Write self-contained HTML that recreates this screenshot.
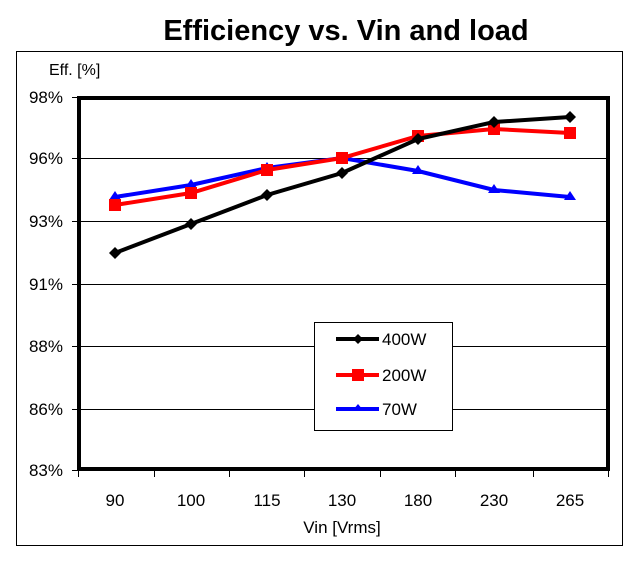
<!DOCTYPE html>
<html><head><style>body{margin:0;background:#fff}</style></head><body>
<svg width="638" height="562" xmlns="http://www.w3.org/2000/svg" font-family="Liberation Sans, sans-serif">
<rect x="16.5" y="51.5" width="606" height="494" fill="none" stroke="#000" stroke-width="1"/>
<text x="346" y="40" font-size="29" font-weight="bold" text-anchor="middle">Efficiency vs. Vin and load</text>
<text x="49" y="75" font-size="16">Eff. [%]</text>
<g stroke="#000" stroke-width="1" shape-rendering="crispEdges">
<line x1="72" y1="158.5" x2="608" y2="158.5"/><line x1="72" y1="221.5" x2="608" y2="221.5"/>
<line x1="72" y1="284.5" x2="608" y2="284.5"/><line x1="72" y1="346.5" x2="608" y2="346.5"/>
<line x1="72" y1="409.5" x2="608" y2="409.5"/><line x1="72" y1="97.5" x2="78" y2="97.5"/>
<line x1="72" y1="470.5" x2="78" y2="470.5"/>
<line x1="154.5" y1="470" x2="154.5" y2="477"/><line x1="229.5" y1="470" x2="229.5" y2="477"/>
<line x1="304.5" y1="470" x2="304.5" y2="477"/><line x1="380.5" y1="470" x2="380.5" y2="477"/>
<line x1="455.5" y1="470" x2="455.5" y2="477"/><line x1="533.5" y1="470" x2="533.5" y2="477"/>
<line x1="608.5" y1="470" x2="608.5" y2="477"/><line x1="78.5" y1="470" x2="78.5" y2="477"/>
</g>
<rect x="79" y="98" width="529" height="371" fill="none" stroke="#000" stroke-width="4"/>
<g font-size="17" text-anchor="end">
<text x="63" y="103">98%</text><text x="63" y="164">96%</text><text x="63" y="227">93%</text>
<text x="63" y="290">91%</text><text x="63" y="352">88%</text><text x="63" y="415">86%</text><text x="63" y="476">83%</text>
</g>
<g font-size="17" text-anchor="middle">
<text x="115" y="506">90</text><text x="191" y="506">100</text><text x="267" y="506">115</text>
<text x="342" y="506">130</text><text x="418" y="506">180</text><text x="494" y="506">230</text><text x="570" y="506">265</text>
<text x="342" y="533">Vin [Vrms]</text>
</g>
<polyline points="115,197 191,185 267,168 342,158 418,171 494,190 570,197" fill="none" stroke="#0000ff" stroke-width="4"/>
<g fill="#0000ff"><path d="M115,191 l6,9 h-12z"/><path d="M191,179 l6,9 h-12z"/><path d="M267,162 l6,9 h-12z"/><path d="M342,152 l6,9 h-12z"/><path d="M418,165 l6,9 h-12z"/><path d="M494,184 l6,9 h-12z"/><path d="M570,191 l6,9 h-12z"/></g>
<polyline points="115,205 191,193 267,170 342,158 418,136 494,129 570,133" fill="none" stroke="#ff0000" stroke-width="4"/>
<g fill="#ff0000"><rect x="109" y="199" width="12" height="12"/><rect x="185" y="187" width="12" height="12"/><rect x="261" y="164" width="12" height="12"/><rect x="336" y="152" width="12" height="12"/><rect x="412" y="130" width="12" height="12"/><rect x="488" y="123" width="12" height="12"/><rect x="564" y="127" width="12" height="12"/></g>
<polyline points="115,253 191,224 267,195 342,173 418,139 494,122 570,117" fill="none" stroke="#000" stroke-width="4"/>
<g fill="#000"><path d="M115,247 l6,6 l-6,6 l-6,-6z"/><path d="M191,218 l6,6 l-6,6 l-6,-6z"/><path d="M267,189 l6,6 l-6,6 l-6,-6z"/><path d="M342,167 l6,6 l-6,6 l-6,-6z"/><path d="M418,133 l6,6 l-6,6 l-6,-6z"/><path d="M494,116 l6,6 l-6,6 l-6,-6z"/><path d="M570,111 l6,6 l-6,6 l-6,-6z"/></g>
<rect x="314.5" y="322.5" width="138" height="108" fill="#fff" stroke="#000" stroke-width="1"/>
<line x1="336" y1="339" x2="379" y2="339" stroke="#000" stroke-width="4"/><path d="M358,334 l5,5 l-5,5 l-5,-5z"/>
<line x1="336" y1="375" x2="379" y2="375" stroke="#f00" stroke-width="4"/><rect x="352" y="369" width="12" height="12" fill="#f00"/>
<line x1="336" y1="409" x2="379" y2="409" stroke="#00f" stroke-width="4"/><path d="M358,404 l5,6 h-10z" fill="#00f"/>
<g font-size="17"><text x="382" y="345">400W</text><text x="382" y="381">200W</text><text x="382" y="415">70W</text></g>
</svg>
</body></html>
